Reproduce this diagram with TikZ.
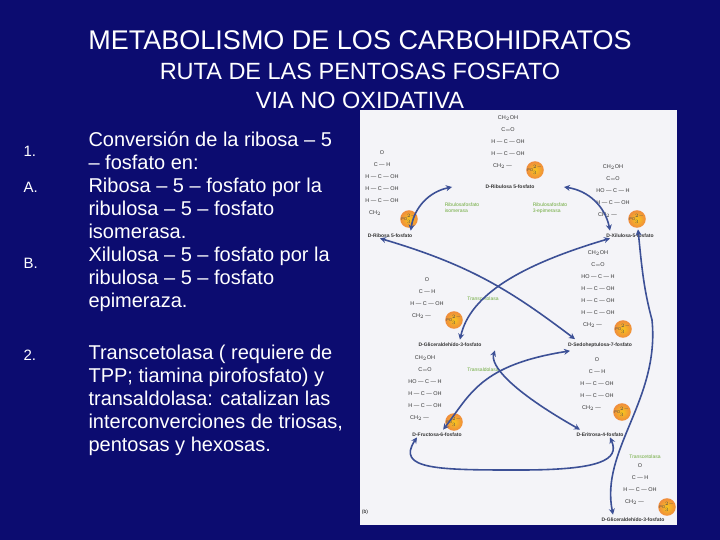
\documentclass[tikz,border=0pt]{standalone}
\usepackage{fontspec}
\setmainfont{Liberation Sans}
\usetikzlibrary{arrows.meta}
\definecolor{bgblue}{RGB}{12,12,112}
\definecolor{panel}{RGB}{244,244,248}
\definecolor{arr}{RGB}{60,80,150}
\definecolor{enz}{RGB}{110,170,60}
\definecolor{po}{RGB}{240,140,60}
\begin{document}
\begin{tikzpicture}[x=1pt,y=-1pt,
  ttl/.style={text=white,font=\fontsize{27}{29}\selectfont},
  sub/.style={text=white,font=\fontsize{23.5}{25}\selectfont},
  num/.style={text=white,font=\fontsize{15}{16}\selectfont,anchor=west},
  itm/.style={text=white,font=\fontsize{20}{23}\selectfont,anchor=north west,align=left},
  mol/.style={font=\fontsize{5.5}{12}\selectfont,align=center,text=black!80,inner sep=0},
  lab/.style={font=\bfseries\fontsize{5}{6}\selectfont,text=black!80},
  enzy/.style={font=\fontsize{5}{6}\selectfont,text=enz,align=left},
  pog/.style={circle,inner color=po!50!yellow,outer color=po,shading=radial,inner sep=0pt,minimum size=12.5pt,font=\fontsize{4}{5}\selectfont,text=black!70},
  ar/.style={draw=arr,line width=1.6pt,-{Stealth[length=6pt,width=6pt]}},
  dar/.style={draw=arr,line width=1.6pt,{Stealth[length=6pt,width=6pt]}-{Stealth[length=6pt,width=6pt]}}]
\fill[bgblue] (0,0) rectangle (720,540);
\node[ttl] (t1) at (360,40) {METABOLISMO DE LOS CARBOHIDRATOS};
\node[sub] (t2) at (360,71) {RUTA DE LAS PENTOSAS FOSFATO};
\node[sub] (t3) at (360,100) {VIA NO OXIDATIVA};
% list
\node[num] (n1) at (20,151) {1.};
\node[itm] (i1) at (85,128) {Conversión de la ribosa – 5\\– fosfato en:};
\node[num] (nA) at (20,187) {A.};
\node[itm] (iA) at (85,174) {Ribosa – 5 – fosfato por la\\ribulosa – 5 – fosfato\\isomerasa.};
\node[num] (nB) at (20,263) {B.};
\node[itm] (iB) at (85,243) {Xilulosa – 5 – fosfato por la\\ribulosa – 5 – fosfato\\epimeraza.};
\node[num] (n2) at (20,355) {2.};
\node[itm] (i2) at (85,341) {Transcetolasa ( requiere de\\TPP; tiamina pirofosfato) y\\transaldolasa: catalizan las\\interconverciones de triosas,\\pentosas y hexosas.};
% panel
\fill[panel] (360,110) rectangle (677,525);
% molecules
\node[mol,anchor=north] (m1) at (508,115) {CH$_2$OH\\C$=$O\\H — C — OH\\H — C — OH\\CH$_2$ —\phantom{xxxx}};
\node[pog] (p1) at (535,170) {PO$_3^{2-}$};
\node[lab] (l1) at (510,187) {D-Ribulosa 5-fosfato};
\node[mol,anchor=north] (m2) at (382,150) {O\\C — H\\H — C — OH\\H — C — OH\\H — C — OH\\CH$_2$\phantom{xxxxx}};
\node[pog] (p2) at (409,219) {PO$_3^{2-}$};
\node[lab] (l2) at (390,236) {D-Ribosa 5-fosfato};
\node[mol,anchor=north] (m3) at (613,164) {CH$_2$OH\\C$=$O\\HO — C — H\\H — C — OH\\CH$_2$ —\phantom{xxxx}};
\node[pog] (p3) at (637,219) {PO$_3^{2-}$};
\node[lab] (l3) at (630,236) {D-Xilulosa-5-fosfato};
\node[mol,anchor=north] (m4) at (598,250) {CH$_2$OH\\C$=$O\\HO — C — H\\H — C — OH\\H — C — OH\\H — C — OH\\CH$_2$ —\phantom{xxxx}};
\node[pog] (p4) at (623,329) {PO$_3^{2-}$};
\node[lab] (l4) at (600,345) {D-Sedoheptulosa-7-fosfato};
\node[mol,anchor=north] (m5) at (427,277) {O\\C — H\\H — C — OH\\CH$_2$ —\phantom{xxxx}};
\node[pog] (p5) at (454,320) {PO$_3^{2-}$};
\node[lab] (l5) at (450,345) {D-Gliceraldehído-3-fosfato};
\node[mol,anchor=north] (m6) at (425,355) {CH$_2$OH\\C$=$O\\HO — C — H\\H — C — OH\\H — C — OH\\CH$_2$ —\phantom{xxxx}};
\node[pog] (p6) at (454,422) {PO$_3^{2-}$};
\node[lab] (l6) at (437,435) {D-Fructosa-6-fosfato};
\node[mol,anchor=north] (m7) at (597,357) {O\\C — H\\H — C — OH\\H — C — OH\\CH$_2$ —\phantom{xxxx}};
\node[pog] (p7) at (622,412) {PO$_3^{2-}$};
\node[lab] (l7) at (600,435) {D-Eritrosa-4-fosfato};
\node[mol,anchor=north] (m8) at (640,463) {O\\C — H\\H — C — OH\\CH$_2$ —\phantom{xxxx}};
\node[pog] (p8) at (667,507) {PO$_3^{2-}$};
\node[lab] (l8) at (633,520) {D-Gliceraldehído-3-fosfato};
% enzymes
\node[enzy] (e1) at (462,208) {Ribulosafosfato\\isomerasa};
\node[enzy] (e2) at (550,208) {Ribulosafosfato\\3-epimerasa};
\node[enzy] (e3) at (483,299) {Transcetolasa};
\node[enzy] (e4) at (483,370) {Transaldolasa};
\node[enzy] (e5) at (645,457) {Transcetolasa};
\node[font=\fontsize{5}{6}\selectfont] (b) at (365,512) {(b)};
% arrows
\draw[dar] (l1.west)+(-30,0) coordinate (a1) (a1) to[bend right=35] ([xshift=-5pt]l2.north east);
\draw[dar] (l1.east)+(26,0) coordinate (a2) (a2) to[bend left=35] ([xshift=-20pt]l3.north);
\draw[dar] ([xshift=-10pt,yshift=3pt]l2.south) .. controls (470,265) and (510,290) .. ([xshift=-25pt]l4.north);
\draw[dar] ([xshift=-20pt,yshift=3pt]l3.south) .. controls (520,265) and (470,295) .. ([xshift=-25pt]l5.north east);
\coordinate (rc) at (652,320);
\draw[ar] (rc) .. controls (644,290) and (642,270) .. ([xshift=8pt,yshift=12pt]l3.south);
\draw[ar] (rc) .. controls (660,400) and (600,450) .. ([xshift=-20pt]l8.north);
\draw[dar] ([xshift=10pt]l5.south east) .. controls (490,365) and (510,390) .. ([xshift=-20pt]l7.north);
\draw[dar] ([xshift=-30pt]l4.south) .. controls (480,365) and (470,395) .. ([xshift=-22pt]l6.north east);
\draw[dar] ([xshift=-20pt,yshift=3pt]l6.south) .. controls (395,470) and (440,470) .. (520,470) .. controls (600,470) and (620,460) .. ([xshift=10pt,yshift=3pt]l7.south);
\end{tikzpicture}
\end{document}
